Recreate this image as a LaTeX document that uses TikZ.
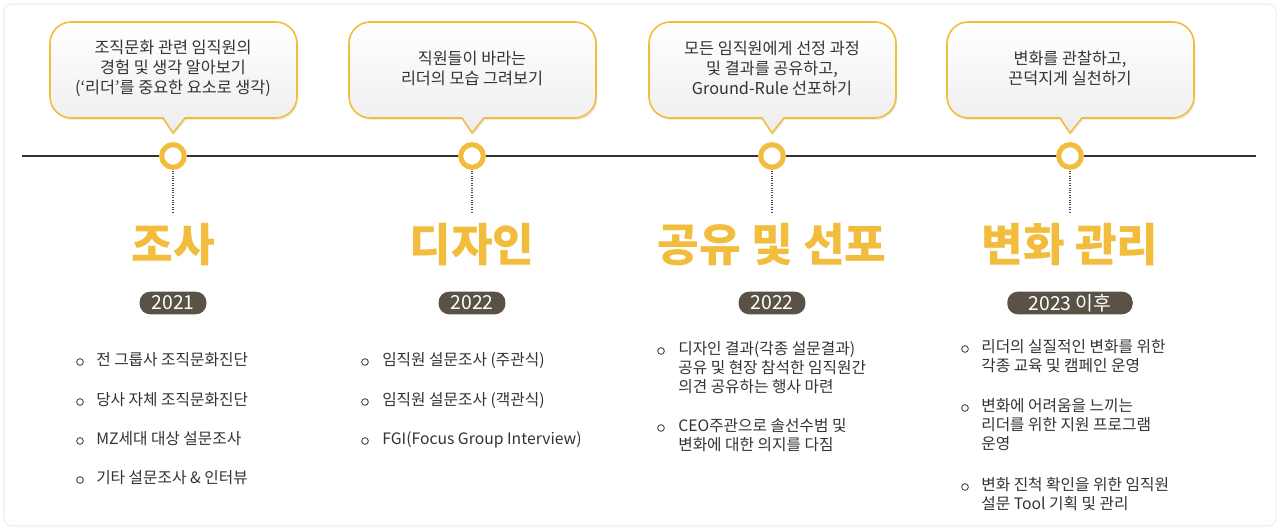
\documentclass[tikz,border=0pt]{standalone}
\usepackage{fontspec}
\setmainfont{Noto Sans CJK KR}
\usetikzlibrary{shadows}
\definecolor{yel}{HTML}{F2BC3C}
\definecolor{pill}{HTML}{5A5247}
\definecolor{txt}{HTML}{333333}
\begin{document}
\begin{tikzpicture}[x=0.75pt,y=-0.75pt,
 callout/.style={draw=yel,line width=1.2pt,top color=white,bottom color=black!7,drop shadow={opacity=0.15,shadow xshift=1pt,shadow yshift=-1.5pt}},
 ctext/.style={align=center,text=txt,font=\fontsize{12.2}{15}\selectfont},
 ttl/.style={text=yel,font=\fontsize{34}{40}\selectfont\bfseries},
 yr/.style={fill=pill,text=white,rounded corners=8pt,minimum height=17pt,inner xsep=9pt,inner ysep=0pt,font=\fontsize{14.5}{15}\selectfont},
 bl/.style={anchor=north west,align=left,text=txt,inner sep=0pt,font=\fontsize{11.8}{14.25}\selectfont},
 dot/.style={circle,draw=txt,line width=0.6pt,minimum size=5pt,inner sep=0pt},
 ring/.style={circle,draw=yel,fill=white,line width=3.8pt,minimum size=17pt,inner sep=0pt}]
\useasboundingbox (0,0) rectangle (1280,530);
\draw[black!12,rounded corners=6pt] (4,4) rectangle (1276,526);
\draw[line width=1.3pt,black!80] (22,156) -- (1256,156);
\foreach \cx/\nm in {173/a,472/b,772/c,1070/d}{
 \draw[callout] (\cx-123,22) [rounded corners=16pt] -- (\cx+124,22) -- (\cx+124,118) [sharp corners]-- (\cx+12,118) -- (\cx,133) -- (\cx-10,118) [rounded corners=16pt]-- (\cx-123,118) -- cycle;
 \draw[densely dotted,line width=0.8pt,black!70] (\cx,166) -- (\cx,213);
 \node[ring] (r\nm) at (\cx,156) {};
}
\node[ctext] (t1) at (173,68) {조직문화 관련 임직원의\\경험 및 생각 알아보기\\(‘리더’를 중요한 요소로 생각)};
\node[ctext] (t2) at (472,68) {직원들이 바라는\\리더의 모습 그려보기};
\node[ctext] (t3) at (772,68) {모든 임직원에게 선정 과정\\및 결과를 공유하고,\\Ground-Rule 선포하기};
\node[ctext] (t4) at (1070,68) {변화를 관찰하고,\\끈덕지게 실천하기};
\node[ttl] (h1) at (173,245) {조사};
\node[ttl] (h2) at (472,245) {디자인};
\node[ttl] (h3) at (772,245) {공유 및 선포};
\node[ttl] (h4) at (1070,245) {변화 관리};
\node[yr] (y1) at (173,303) {2021};
\node[yr] (y2) at (472,303) {2022};
\node[yr] (y3) at (772,303) {2022};
\node[yr,inner xsep=16pt] (y4) at (1070,303) {2023 이후};
\foreach \y/\t [count=\i] in {362/전 그룹사 조직문화진단,402/당사 자체 조직문화진단,441/MZ세대 대상 설문조사,480/기타 설문조사 \& 인터뷰}{
 \node[dot] (da\i) at (80,\y) {};
 \node[bl] (ba\i) at (96,\y-10) {\t};}
\foreach \y/\t [count=\i] in {362/임직원 설문조사 (주관식),402/임직원 설문조사 (객관식),441/FGI(Focus Group Interview)}{
 \node[dot] (db\i) at (365,\y) {};
 \node[bl] (bb\i) at (382,\y-10) {\t};}
\node[dot] (dc1) at (661,351) {};
\node[bl] (bc1) at (678,341) {디자인 결과(각종 설문결과)\\공유 및 현장 참석한 임직원간\\의견 공유하는 행사 마련};
\node[dot] (dc2) at (661,428) {};
\node[bl] (bc2) at (678,418) {CEO주관으로 솔선수범 및\\변화에 대한 의지를 다짐};
\node[dot] (dd1) at (965,349) {};
\node[bl] (bd1) at (981,339) {리더의 실질적인 변화를 위한\\각종 교육 및 캠페인 운영};
\node[dot] (dd2) at (965,408) {};
\node[bl] (bd2) at (981,398) {변화에 어려움을 느끼는\\리더를 위한 지원 프로그램\\운영};
\node[dot] (dd3) at (965,487) {};
\node[bl] (bd3) at (981,477) {변화 진척 확인을 위한 임직원\\설문 Tool 기획 및 관리};
\end{tikzpicture}
\end{document}
